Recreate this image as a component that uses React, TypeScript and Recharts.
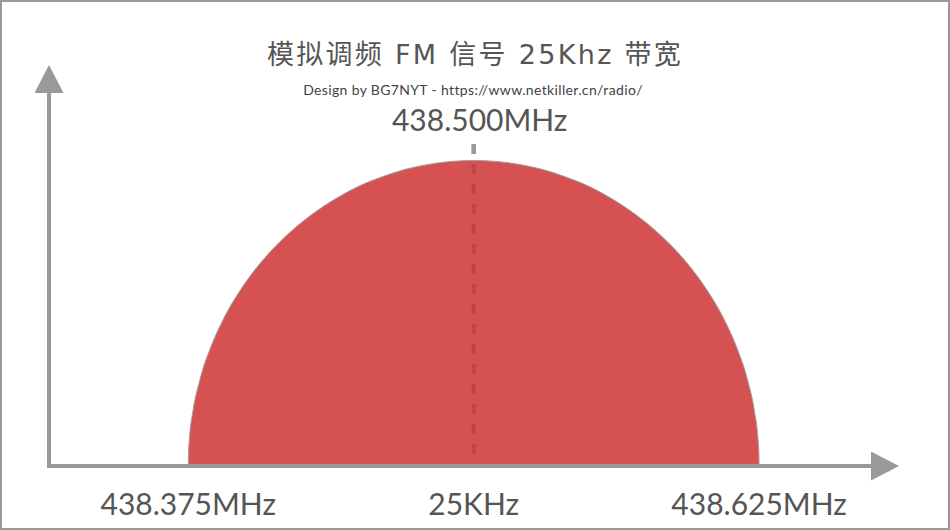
import { Area, ComposedChart, ReferenceLine, XAxis, YAxis } from "recharts";

// offset from centre frequency, kHz
const OFFSETS = [
  -12.5, -12.49, -12.45, -12.3, -12, -11.5, -11, -10, -9, -8, -7, -6, -5, -4, -3, -2, -1, 0,
  1, 2, 3, 4, 5, 6, 7, 8, 9, 10, 11, 11.5, 12, 12.3, 12.45, 12.49, 12.5,
];
// relative signal level
const LEVELS = [
  0, 0.04, 0.089, 0.178, 0.28, 0.392, 0.475, 0.6, 0.694, 0.768, 0.828, 0.877, 0.917, 0.947,
  0.971, 0.987, 0.997, 1, 0.997, 0.987, 0.971, 0.947, 0.917, 0.877, 0.828, 0.768, 0.694, 0.6,
  0.475, 0.392, 0.28, 0.178, 0.089, 0.04, 0,
];
const TICKS = [-12.5, 0, 12.5];
const TICK_LABELS = ["438.375MHz", "25KHz", "438.625MHz"];
const CENTER_LABEL = "438.500MHz";

const TITLE = "模拟调频 FM 信号 25Khz 带宽";
const SUBTITLE = "Design by BG7NYT - https://www.netkiller.cn/radio/";

const FONT = "Lato, 'Noto Sans CJK SC', sans-serif";
const TITLE_FONT = "'DejaVu Sans', 'Noto Sans CJK SC', sans-serif";
const GREY = "#999999";
const RED = "#d65151";

const data = OFFSETS.map((x, i) => ({ x, level: LEVELS[i] }));

const BottomTick = ({ x, y, payload }: any) => {
  const idx = TICKS.indexOf(payload.value);
  return (
    <text x={x} y={y + 49} textAnchor="middle" fontSize={30} fill="#555" fontFamily={FONT}>
      {TICK_LABELS[idx]}
    </text>
  );
};

export default function App() {
  return (
    <div style={{ position: "absolute", left: 0, top: 0, width: 950, height: 530, background: "#fff" }}>
      <ComposedChart
        width={950}
        height={530}
        data={data}
        margin={{ top: 93, right: 79, bottom: 0, left: 39 }}
      >
        <defs>
          <marker
            id="arrowHead"
            viewBox="0 0 28 29"
            refX={0}
            refY={14.5}
            markerWidth={28}
            markerHeight={29}
            markerUnits="userSpaceOnUse"
            orient="auto-start-reverse"
          >
            <path d="M0,0 L28,14.5 L0,29 Z" fill={GREY} />
          </marker>
        </defs>
        <text
          x={475}
          y={64}
          textAnchor="middle"
          fontSize={27}
          letterSpacing={2.3}
          fill="#555"
          fontFamily={TITLE_FONT}
        >
          {TITLE}
        </text>
        <text
          x={473}
          y={95}
          textAnchor="middle"
          fontSize={14}
          letterSpacing={0.35}
          fill="#444"
          fontFamily={FONT}
        >
          {SUBTITLE}
        </text>
        <XAxis
          dataKey="x"
          type="number"
          domain={[-18.6, 17.4]}
          ticks={TICKS}
          height={64}
          tickSize={0}
          tickMargin={0}
          tickLine={false}
          tick={<BottomTick />}
          axisLine={{ stroke: GREY, strokeWidth: 4, strokeLinecap: "square", markerEnd: "url(#arrowHead)" }}
        />
        <YAxis
          type="number"
          domain={[0, 1.221]}
          width={10}
          tick={false}
          tickLine={false}
          axisLine={{ stroke: GREY, strokeWidth: 4, strokeLinecap: "square", markerStart: "url(#arrowHead)" }}
        />
        <Area
          type="monotone"
          dataKey="level"
          fill={RED}
          fillOpacity={1}
          stroke="#a0a0a0"
          strokeWidth={1}
          isAnimationActive={false}
          dot={false}
          activeDot={false}
        />
        <ReferenceLine
          segment={[
            { x: 0, y: 1.054 },
            { x: 0, y: 0 },
          ]}
          stroke="#c04343"
          strokeWidth={4}
          strokeDasharray="10 10"
        />
        <ReferenceLine
          segment={[
            { x: 0, y: 1.054 },
            { x: 0, y: 1.0 },
          ]}
          stroke={GREY}
          strokeWidth={4}
          strokeDasharray="10 10"
          label={({ viewBox }: any) => (
            <text
              x={viewBox.x + 6}
              y={viewBox.y - 13}
              textAnchor="middle"
              fontSize={30}
              fill="#555"
              fontFamily={FONT}
            >
              {CENTER_LABEL}
            </text>
          )}
        />
      </ComposedChart>
      <div
        style={{
          position: "absolute",
          inset: 0,
          border: `2px solid ${GREY}`,
          pointerEvents: "none",
        }}
      />
    </div>
  );
}
